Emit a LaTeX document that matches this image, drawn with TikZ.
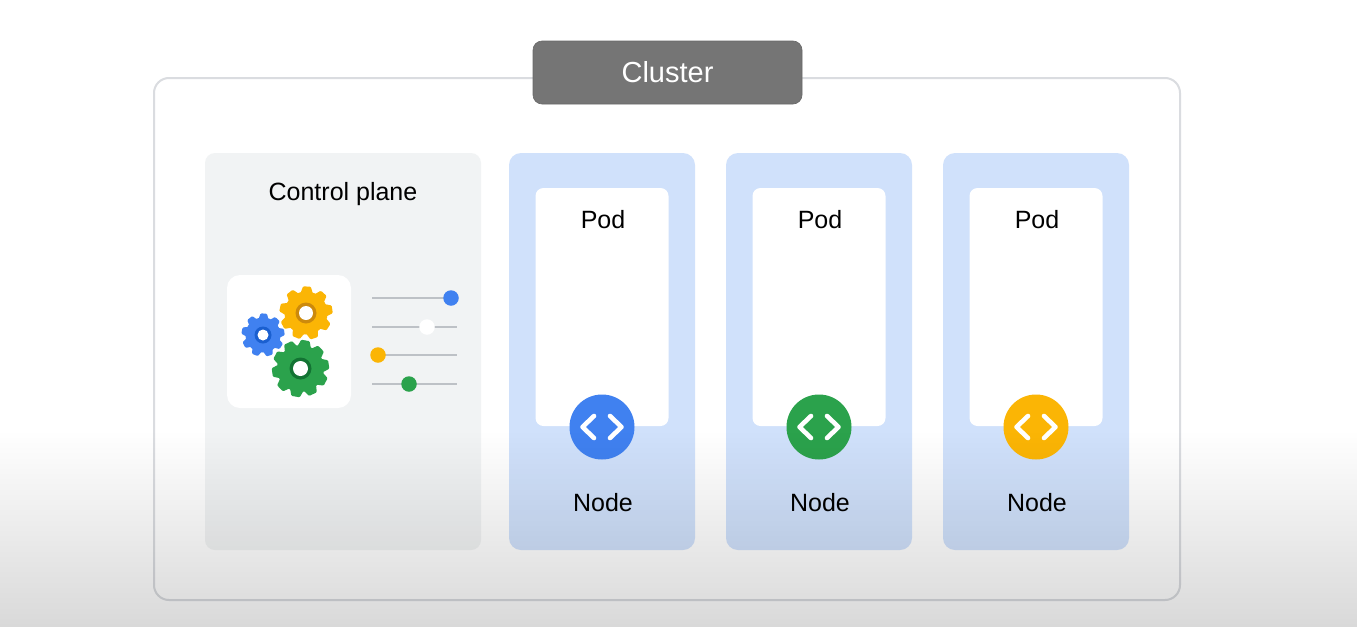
\documentclass[tikz,border=0pt]{standalone}
\usepackage{fontspec}
\setmainfont{Liberation Sans}
\usetikzlibrary{fadings}
\definecolor{framegray}{HTML}{DADCE0}
\definecolor{labelgray}{HTML}{757575}
\definecolor{planegray}{HTML}{F1F3F4}
\definecolor{nodeblue}{HTML}{D0E1FB}
\definecolor{trackgray}{HTML}{BDC1C6}
\definecolor{gblue}{HTML}{4081F0}
\definecolor{gblued}{HTML}{1A5FD0}
\definecolor{ggreen}{HTML}{2BA24C}
\definecolor{ggreend}{HTML}{137333}
\definecolor{gyellow}{HTML}{FBB505}
\definecolor{gyellowd}{HTML}{CC8A0C}
\tikzfading[name=fadedown, top color=transparent!100, bottom color=transparent!85]
\tikzset{
	frame/.style={draw=framegray, line width=2pt, rounded corners=15pt},
	title/.style={font=\fontsize{25}{30}\selectfont, text=black},
	box/.style={anchor=north west, inner sep=0pt, outer sep=0pt},
	chevron/.style={draw=white, line width=4.6pt, line cap=round, line join=round},
	track/.style={draw=trackgray, line width=2pt},
	knob/.style={circle, minimum size=15.5pt, inner sep=0pt}
}
% center, teeth, body radius, outer radius, ring radius, hole radius, colour, dark colour
\newcommand{\gearshape}[8]{
	\fill[#7] (#1) circle (#3pt);
	\foreach \a in {1,...,#2} {
		\fill[#7, shift={(#1)}, rotate=\a*360/#2+8, rounded corners=1pt]
			(#3-2,-#3*0.29) -- (#4,-#3*0.18) -- (#4,#3*0.18) -- (#3-2,#3*0.29) -- cycle;
	}
	\fill[#8] (#1) circle (#5pt);
	\fill[white] (#1) circle (#6pt);
}
\begin{document}
\begin{tikzpicture}[x=1pt, y=-1pt]
	\useasboundingbox (0,0) rectangle (1358,627);
	\fill[white] (0,0) rectangle (1358,627);
	\draw[frame] (154,78) rectangle (1180,600);

	\node (plane) [box, fill=planegray, rounded corners=10pt, minimum width=276pt, minimum height=397pt] at (205,153) {};
	\node (planetitle) [title] at (343,194) {Control plane};
	\node (plate) [box, fill=white, rounded corners=13pt, minimum width=124pt, minimum height=133pt] at (227,275) {};

	\gearshape{306,313}{9}{21.5}{26.5}{10.5}{7}{gyellow}{gyellowd}
	\gearshape{263,335}{9}{17.5}{21.5}{8.5}{5.5}{gblue}{gblued}
	\gearshape{300.5,368.5}{10}{23.5}{28.5}{11}{7.5}{ggreen}{ggreend}

	\draw[track] (372,298) -- (451,298);
	\draw[track] (372,327) -- (457,327);
	\draw[track] (378,355) -- (457,355);
	\draw[track] (372,384) -- (457,384);
	\node (knoba) [knob, fill=gblue] at (451,298) {};
	\node (knobb) [knob, fill=white] at (427,327) {};
	\node (knobc) [knob, fill=gyellow] at (378,355) {};
	\node (knobd) [knob, fill=ggreen] at (409,384) {};

	% three worker columns
	\foreach \n/\x/\col in {a/509/gblue, b/726/ggreen, c/943/gyellow} {
		\node (node\n) [box, fill=nodeblue, rounded corners=12pt, minimum width=186pt, minimum height=397pt] at (\x,153) {};
		\node (pod\n) [box, fill=white, rounded corners=8pt, minimum width=133pt, minimum height=238pt] at (\x+26.5,188) {};
		\node (podtitle\n) [title] at (\x+94,220) {Pod};
		\node (nodetitle\n) [title] at (\x+94,503) {Node};
		\node (icon\n) [circle, fill=\col, minimum size=65pt, inner sep=0pt] at (\x+93,427) {};
		\draw[chevron] ([shift={(-8,-11)}]icon\n.center) -- ([shift={(-19.5,0)}]icon\n.center) -- ([shift={(-8,11)}]icon\n.center);
		\draw[chevron] ([shift={(8,-11)}]icon\n.center) -- ([shift={(19.5,0)}]icon\n.center) -- ([shift={(8,11)}]icon\n.center);
	}

	% bottom darkening of the whole frame
	\fill[black, path fading=fadedown] (0,430) rectangle (1358,627);

	\node (cluster) [box, fill=labelgray, draw=labelgray!90!black, line width=.6pt, rounded corners=9pt, minimum width=269pt, minimum height=63pt] at (533,41) {};
	\node (clustertitle) [title, text=white, font=\fontsize{29}{34}\selectfont] at (cluster.center) {Cluster};
\end{tikzpicture}
\end{document}
